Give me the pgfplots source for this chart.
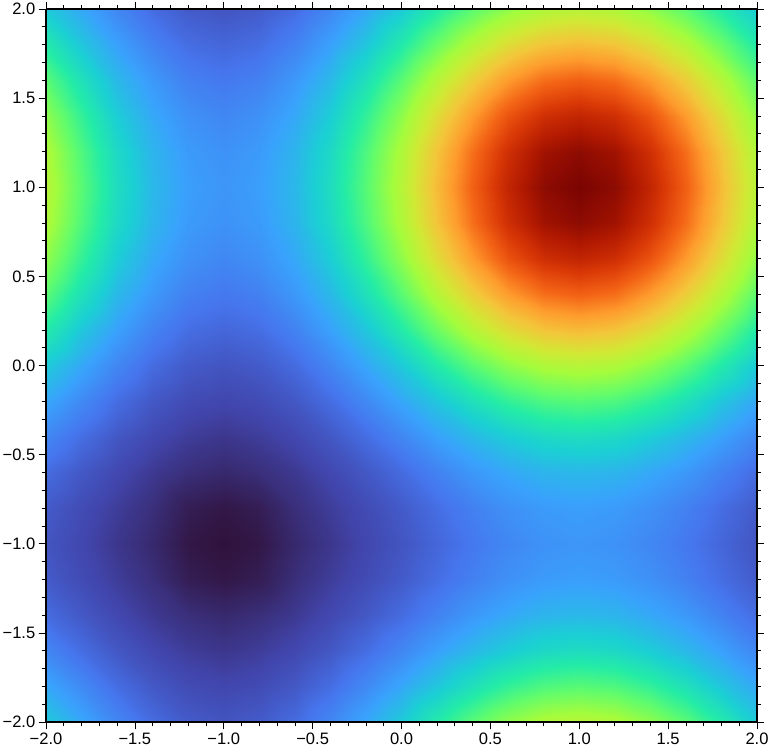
\documentclass[border=0pt]{standalone}
\usepackage{pgfplots}
\usepackage{fontspec}
\setmainfont{Liberation Sans}
\pgfplotsset{compat=1.18}
\pgfplotsset{colormap={turbo}{rgb255=(48,18,59) rgb255=(65,69,171) rgb255=(70,117,237) rgb255=(57,162,252) rgb255=(27,207,212) rgb255=(36,236,166) rgb255=(97,252,108) rgb255=(164,252,60) rgb255=(209,232,52) rgb255=(243,198,58) rgb255=(254,155,45) rgb255=(243,99,21) rgb255=(217,56,6) rgb255=(177,25,1) rgb255=(122,4,2)}}
\begin{document}
\begin{tikzpicture}[x=0.75pt,y=0.75pt]
\path[use as bounding box] (-46,-26) rectangle (726,722);
\begin{axis}[
  at={(0,0)},anchor=south west,
  scale only axis,width=533.25pt,height=534.75pt,
  view={0}{90},
  xmin=-2,xmax=2,ymin=-2,ymax=2,
  colormap name=turbo,point meta min=0,point meta max=1000,
  axis on top,
  axis line style={line width=1.1pt},
  tick align=outside,
  xtick pos=both,ytick pos=both,
  xticklabel pos=bottom,yticklabel pos=left,
  xtick={-2,-1.5,-1,-0.5,0,0.5,1,1.5,2},
  ytick={-2,-1.5,-1,-0.5,0,0.5,1,1.5,2},
  xticklabels={−2.0,−1.5,−1.0,−0.5,0.0,0.5,1.0,1.5,2.0},
  yticklabels={−2.0,−1.5,−1.0,−0.5,0.0,0.5,1.0,1.5,2.0},
  minor tick num=4,
  major tick length=5.5pt,minor tick length=2.8pt,
  every tick/.style={black,line width=0.5pt},
  tick label style={font=\fontsize{12.4}{14}\selectfont},
  xticklabel style={yshift=1pt},
  yticklabel style={xshift=1pt},
]
\addplot3[surf,shader=interp,mesh/rows=22,mesh/cols=21,mesh/ordering=y varies,
  point meta=\thisrow{z}]
  table[row sep=\\,
    y expr={-2.2+0.2*mod(\coordindex,22)},
    x expr={-2+0.2*floor(\coordindex/22)},
    z=z]{
z\\
352\\280\\223\\171\\129\\104\\95\\104\\129\\171\\223\\280\\352\\421\\478\\517\\530\\517\\478\\421\\352\\280\\
272\\223\\175\\131\\100\\81\\74\\81\\100\\131\\175\\223\\272\\327\\374\\406\\417\\406\\374\\327\\272\\223\\
213\\171\\131\\99\\76\\60\\52\\60\\76\\99\\131\\171\\213\\250\\283\\309\\318\\309\\283\\250\\213\\171\\
164\\129\\100\\76\\55\\40\\32\\40\\55\\76\\100\\129\\164\\199\\224\\243\\249\\243\\224\\199\\164\\129\\
132\\104\\81\\60\\40\\16\\8\\16\\40\\60\\81\\104\\132\\161\\187\\203\\209\\203\\187\\161\\132\\104\\
121\\95\\74\\52\\32\\8\\0\\8\\32\\52\\74\\95\\121\\148\\172\\189\\195\\189\\172\\148\\121\\95\\
132\\104\\81\\60\\40\\16\\8\\16\\40\\60\\81\\104\\132\\161\\187\\203\\209\\203\\187\\161\\132\\104\\
164\\129\\100\\76\\55\\40\\32\\40\\55\\76\\100\\129\\164\\199\\224\\243\\249\\243\\224\\199\\164\\129\\
213\\171\\131\\99\\76\\60\\52\\60\\76\\99\\131\\171\\213\\250\\283\\309\\318\\309\\283\\250\\213\\171\\
272\\223\\175\\131\\100\\81\\74\\81\\100\\131\\175\\223\\272\\327\\374\\406\\417\\406\\374\\327\\272\\223\\
352\\280\\223\\171\\129\\104\\95\\104\\129\\171\\223\\280\\352\\421\\478\\517\\530\\517\\478\\421\\352\\280\\
440\\352\\272\\213\\164\\132\\121\\132\\164\\213\\272\\352\\440\\526\\598\\646\\662\\646\\598\\526\\440\\352\\
526\\421\\327\\250\\199\\161\\148\\161\\199\\250\\327\\421\\526\\628\\713\\772\\792\\772\\713\\628\\526\\421\\
598\\478\\374\\283\\224\\187\\172\\187\\224\\283\\374\\478\\598\\713\\811\\877\\900\\877\\811\\713\\598\\478\\
646\\517\\406\\309\\243\\203\\189\\203\\243\\309\\406\\517\\646\\772\\877\\950\\975\\950\\877\\772\\646\\517\\
662\\530\\417\\318\\249\\209\\195\\209\\249\\318\\417\\530\\662\\792\\900\\975\\1000\\975\\900\\792\\662\\530\\
646\\517\\406\\309\\243\\203\\189\\203\\243\\309\\406\\517\\646\\772\\877\\950\\975\\950\\877\\772\\646\\517\\
598\\478\\374\\283\\224\\187\\172\\187\\224\\283\\374\\478\\598\\713\\811\\877\\900\\877\\811\\713\\598\\478\\
526\\421\\327\\250\\199\\161\\148\\161\\199\\250\\327\\421\\526\\628\\713\\772\\792\\772\\713\\628\\526\\421\\
440\\352\\272\\213\\164\\132\\121\\132\\164\\213\\272\\352\\440\\526\\598\\646\\662\\646\\598\\526\\440\\352\\
352\\280\\223\\171\\129\\104\\95\\104\\129\\171\\223\\280\\352\\421\\478\\517\\530\\517\\478\\421\\352\\280\\
};
\end{axis}
\end{tikzpicture}
\end{document}
